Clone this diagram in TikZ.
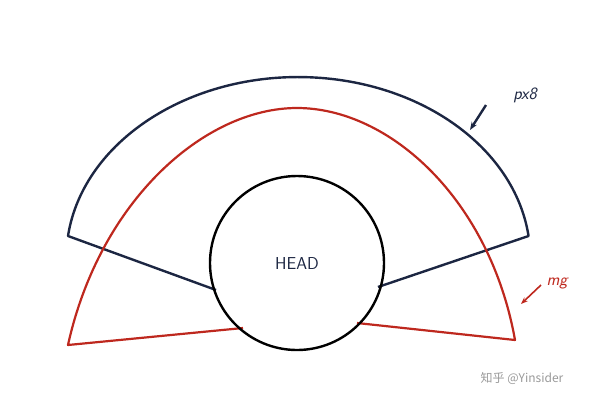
\documentclass[tikz,border=0pt]{standalone}
\usepackage{fontspec}
\newfontfamily\cjk{Noto Sans CJK SC}
\usetikzlibrary{arrows.meta}
\begin{document}
\begin{tikzpicture}[x=1pt,y=-1pt,
  navy/.style={draw={rgb,255:red,28;green,38;blue,66},line width=2.4pt,line join=round},
  redl/.style={draw={rgb,255:red,190;green,40;blue,30},line width=2.2pt,line join=round},
  lbl/.style={font=\sffamily\itshape\LARGE}]
\useasboundingbox (0,0) rectangle (600,400);
\definecolor{nv}{RGB}{28,38,66}
\definecolor{rd}{RGB}{190,40,30}
% navy sector
\coordinate (nl) at (68,236);
\coordinate (nr) at (528,232);
\coordinate (nil) at (216,290);
\coordinate (nir) at (378,287);
\draw[navy] (nil) -- (nl) arc[start angle=187, end angle=353, x radius=232, y radius=181] -- (nir);
% red sector
\coordinate (rl) at (68,345);
\coordinate (rr) at (515,340);
\draw[redl] (243,328) -- (rl) .. controls (100,200) and (205,108) .. (297,108) .. controls (390,108) and (490,200) .. (rr) -- (357,323);
% head
\node[draw=black,line width=2.4pt,circle,minimum size=174pt,font=\sffamily\LARGE,text=nv] (head) at (297,263) {HEAD};
% arrows
\node[lbl,text=nv] (px) at (525,95) {px8};
\coordinate (pa) at (470,130);
\draw[navy,-{Stealth[length=8pt]}] (486,105) -- (pa);
\node[lbl,text=rd] (mg) at (557,283) {mg};
\coordinate (ma) at (521,304);
\draw[redl,line width=1.6pt,-{Stealth[length=7pt]}] (541,285) -- (ma);
\node[text=gray!80,font=\cjk\large] (wm) at (522,378) {知乎 @Yinsider};
\end{tikzpicture}
\end{document}
